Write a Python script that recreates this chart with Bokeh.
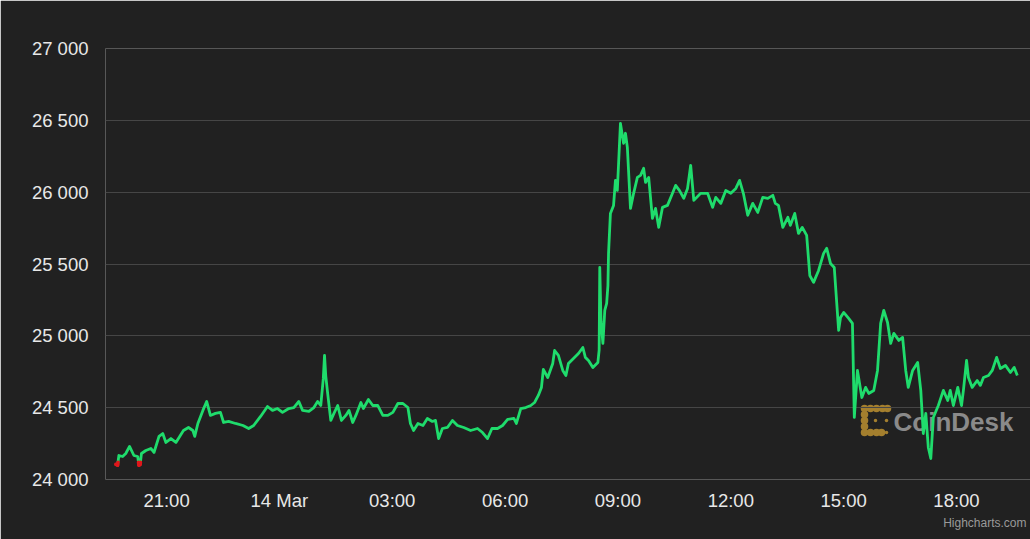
import datetime as dt
from bokeh.plotting import figure
from bokeh.models import Range1d, FixedTicker, Label, Title
from bokeh.embed import file_html
from bokeh.resources import INLINE

# ---------------- data ----------------
START = dt.datetime(2023, 3, 13, 19, 39)
minutes = [0, 3, 5, 11, 16, 22, 29, 35, 37, 39, 41, 48, 56, 61, 69, 75, 80, 88, 96, 102,
           108, 116, 123, 126, 131, 139, 145, 151, 159, 167, 172, 180, 191, 203, 212, 220, 231, 242, 250, 258,
           266, 276, 284, 292, 298, 308, 316, 322, 327, 331, 333, 335, 338, 343, 348, 354, 360, 367, 372, 378,
           383, 391, 395, 403, 410, 418, 426, 434, 442, 450, 458, 466, 470, 475, 482, 490, 497, 505, 510, 515,
           521, 529, 537, 545, 555, 566, 577, 585, 593, 600, 609, 617, 625, 635, 639, 646, 654, 662, 668, 674,
           679, 682, 689, 697, 700, 706, 713, 718, 722, 730, 738, 745, 749, 754, 761, 769, 771, 772, 774, 777,
           780, 783, 785, 786, 789, 794, 797, 800, 805, 810, 813, 816, 821, 826, 832, 837, 842, 845, 850, 856,
           861, 866, 872, 880, 888, 893, 899, 906, 912, 917, 922, 933, 944, 952, 957, 965, 973, 981, 989, 995,
           1001, 1008, 1016, 1024, 1032, 1040, 1048, 1052, 1057, 1064, 1072, 1076, 1083, 1089, 1095, 1102, 1107, 1113, 1121, 1129,
           1134, 1140, 1146, 1153, 1156, 1161, 1169, 1175, 1178, 1183, 1190, 1196, 1201, 1209, 1215, 1220, 1225, 1231, 1236, 1241,
           1249, 1255, 1260, 1264, 1271, 1279, 1284, 1288, 1292, 1296, 1300, 1304, 1312, 1320, 1327, 1331, 1336, 1343, 1349, 1352,
           1357, 1360, 1366, 1374, 1379, 1384, 1392, 1398, 1405, 1411, 1419, 1427, 1433, 1438]
prices = [24105, 24100, 24167, 24160, 24181, 24230, 24167, 24160, 24100, 24105, 24181, 24202, 24216, 24188, 24300, 24320, 24258, 24285, 24258, 24300,
          24341, 24362, 24341, 24300, 24390, 24481, 24543, 24446, 24460, 24467, 24397, 24404, 24390, 24376, 24355, 24376, 24439, 24508, 24481, 24494,
          24467, 24494, 24501, 24543, 24481, 24474, 24501, 24543, 24515, 24700, 24864, 24720, 24600, 24411, 24460, 24515, 24411, 24446, 24481, 24397,
          24446, 24536, 24494, 24557, 24515, 24515, 24446, 24446, 24467, 24529, 24529, 24501, 24390, 24341, 24390, 24376, 24425, 24404, 24411, 24285,
          24355, 24362, 24411, 24376, 24362, 24341, 24355, 24327, 24285, 24355, 24355, 24376, 24418, 24425, 24390, 24494, 24501, 24515, 24536, 24585,
          24641, 24766, 24710, 24808, 24898, 24864, 24759, 24724, 24808, 24843, 24877, 24919, 24850, 24829, 24780, 24815, 24900, 25476, 25100, 24947,
          25177, 25226, 25350, 25574, 25852, 25908, 26082, 26012, 26479, 26340, 26410, 26312, 25887, 25992, 26103, 26117, 26166, 26068, 26103, 25818,
          25887, 25755, 25894, 25908, 25992, 26047, 26012, 25957, 26026, 26187, 25943, 25992, 25992, 25894, 25964, 25922, 26012, 25992, 26026, 26082,
          25992, 25839, 25922, 25859, 25964, 25957, 25978, 25922, 25908, 25755, 25825, 25769, 25852, 25713, 25755, 25699, 25420, 25372, 25455, 25574,
          25609, 25504, 25476, 25038, 25128, 25163, 25121, 25087, 24432, 24759, 24571, 24641, 24599, 24620, 24759, 25087, 25177, 25093, 24947, 25017,
          24968, 24989, 24759, 24641, 24759, 24815, 24620, 24320, 24460, 24223, 24146, 24432, 24515, 24620, 24550, 24620, 24515, 24641, 24515, 24620,
          24829, 24710, 24641, 24689, 24655, 24710, 24724, 24759, 24850, 24773, 24794, 24745, 24780, 24724]
RED_THRESHOLD = 24120

y_ticks = [24000, 24500, 25000, 25500, 26000, 26500, 27000]
y_tick_labels = ["24 000", "24 500", "25 000", "25 500", "26 000", "26 500", "27 000"]
x_tick_times = ["2023-03-13 21:00", "2023-03-14 00:00", "2023-03-14 03:00", "2023-03-14 06:00",
                "2023-03-14 09:00", "2023-03-14 12:00", "2023-03-14 15:00", "2023-03-14 18:00"]
x_tick_labels = ["21:00", "14 Mar", "03:00", "06:00", "09:00", "12:00", "15:00", "18:00"]

# ---------------- helpers ----------------
EPOCH = dt.datetime(1970, 1, 1)


def ms(t):
    return (t - EPOCH).total_seconds() * 1000.0


xs = [ms(START + dt.timedelta(minutes=m)) for m in minutes]
x_ticks = [ms(dt.datetime.strptime(s, "%Y-%m-%d %H:%M")) for s in x_tick_times]

# red parts (below threshold)
red_x, red_y = [], []
for i in range(len(prices) - 1):
    a, b = prices[i], prices[i + 1]
    xa, xb = xs[i], xs[i + 1]
    if a >= RED_THRESHOLD and b >= RED_THRESHOLD:
        continue
    if a < RED_THRESHOLD and b < RED_THRESHOLD:
        red_x.append([xa, xb]); red_y.append([a, b])
    elif a < RED_THRESHOLD:
        f = (RED_THRESHOLD - a) / (b - a)
        red_x.append([xa, xa + f * (xb - xa)]); red_y.append([a, RED_THRESHOLD])
    else:
        f = (RED_THRESHOLD - a) / (b - a)
        red_x.append([xa + f * (xb - xa), xb]); red_y.append([RED_THRESHOLD, b])

BG = "#212121"
TXT = "#e8e8e8"
FONT = "Liberation Sans"

W, H = 1030, 539
FL, FT, FB = 105, 48, 60          # frame borders (left, top, bottom)
FW = W - FL
FH = H - FT - FB
x_start = ms(dt.datetime(2023, 3, 13, 19, 22, 40))
x_end = ms(dt.datetime(2023, 3, 14, 19, 58, 0))
Y0, Y1 = 24000, 27000

p = figure(width=W, height=H, output_backend="svg", toolbar_location=None,
           x_range=Range1d(x_start, x_end), y_range=Range1d(Y0, Y1),
           min_border_left=FL, min_border_right=0, min_border_top=FT, min_border_bottom=FB,
           background_fill_color=BG, border_fill_color=BG, outline_line_color=None)

p.xgrid.grid_line_color = None
p.ygrid.grid_line_color = "#464646"
p.ygrid.grid_line_width = 1.2
p.ygrid.ticker = FixedTicker(ticks=y_ticks)

p.yaxis.ticker = FixedTicker(ticks=y_ticks)
p.yaxis.major_label_overrides = {t: l for t, l in zip(y_ticks, y_tick_labels)}
p.xaxis.ticker = FixedTicker(ticks=x_ticks)
p.xaxis.major_label_overrides = {int(t): l for t, l in zip(x_ticks, x_tick_labels)}
for ax in (p.xaxis, p.yaxis):
    ax.axis_line_color = None
    ax.major_tick_line_color = None
    ax.minor_tick_line_color = None
    ax.major_tick_out = 0
    ax.major_tick_in = 0
    ax.major_label_text_color = TXT
    ax.major_label_text_font = FONT
    ax.major_label_text_font_size = "18.5px"
p.yaxis.major_label_standoff = 17
p.xaxis.major_label_standoff = 10

# watermark (drawn below the line)
logo_big = [(864, 408), (870, 408), (876, 408), (882, 408), (887, 408),
            (864, 414), (864, 420), (864, 426),
            (864, 432), (870, 432), (876, 432), (881, 432)]
logo_small = [(875, 420), (886, 420), (886, 432)]


def fx(px):
    return x_start + (px - FL) / FW * (x_end - x_start)


def fy(py):
    return Y0 + (FT + FH - py) / FH * (Y1 - Y0)


p.scatter([fx(a) for a, b in logo_big], [fy(b) for a, b in logo_big], size=7.5,
          fill_color="#a47f2e", line_color=None, level="underlay")
p.scatter([fx(a) for a, b in logo_small], [fy(b) for a, b in logo_small], size=3.5,
          fill_color="#a47f2e", line_color=None, level="underlay")
p.add_layout(Label(x=893 - FL, y=FT + FH - 421, x_units="screen", y_units="screen",
                   text="CoinDesk", text_font=FONT, text_font_style="bold",
                   text_font_size="26px", text_color="#8a8a8a", text_baseline="middle",
                   level="underlay"))

p.line(xs, prices, line_color="#1fdc6c", line_width=2.8, line_join="round")
if red_x:
    p.multi_line(red_x, red_y, line_color="#e0161b", line_width=3.5, line_cap="round")

credit = Title(text="Highcharts.com", align="right", text_font=FONT, text_font_size="12px",
               text_font_style="normal", text_color="#9a9a9a", standoff=0, offset=4)
p.add_layout(credit, "below")

html = file_html(p, INLINE)
html = html.replace("<body>", '<body style="background:%s">' % BG, 1)
open("out.html", "w").write(html)
